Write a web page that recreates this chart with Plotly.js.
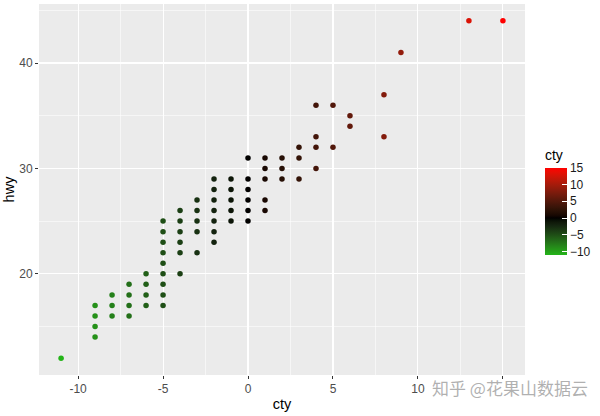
<!DOCTYPE html>
<html>
<head>
<meta charset="utf-8">
<script src="https://cdn.plot.ly/plotly-3.0.1.min.js"></script>
<style>html,body{margin:0;padding:0;background:#fff;}#chart{width:600px;height:416px;}</style>
</head>
<body>
<div id="chart"></div>
<script>
// centered city mpg (x) and highway mpg (y), one entry per drawn point
const ctyCentered = [
  -11,
  -9,-9,-9,-9,
  -8,-8,-8,
  -7,-7,-7,-7,
  -6,-6,-6,-6,
  -5,-5,-5,-5,-5,-5,-5,-5,-5,
  -4,-4,-4,-4,-4,-4,
  -3,-3,-3,-3,-3,
  -2,-2,-2,-2,-2,-2,-2,
  -1,-1,-1,-1,-1,
  0,0,0,0,0,0,
  1,1,1,1,1,
  2,2,2,
  3,3,3,
  4,4,4,4,
  5,5,
  6,6,
  8,8,
  9,
  13,
  15
];
const hwy = [
  12,
  14,15,16,17,
  16,17,18,
  16,17,18,19,
  17,18,19,20,
  17,18,19,20,21,22,23,24,25,
  20,22,23,24,25,26,
  22,24,25,26,27,
  23,24,25,26,27,28,29,
  25,26,27,28,29,
  25,26,27,28,29,31,
  26,27,29,30,31,
  29,30,31,
  29,31,32,
  30,32,33,36,
  32,36,
  34,35,
  33,37,
  41,
  44,
  44
];
const xTickVals = [-10, -5, 0, 5, 10, 15];
// the "15" x label is hidden behind the watermark in the reference
const xTickText = ['-10', '-5', '0', '5', '10', ''];
const yTickVals = [20, 30, 40];
const colorTickVals = [-10, -5, 0, 5, 10, 15];

// --- Lab-space gradient (low green, mid black, high red; midpoint 0) ---
function srgbToLin(c){c/=255;return c<=0.04045?c/12.92:Math.pow((c+0.055)/1.055,2.4);}
function linToSrgb(c){c=Math.max(0,Math.min(1,c));const v=c<=0.0031308?12.92*c:1.055*Math.pow(c,1/2.4)-0.055;return Math.round(Math.max(0,Math.min(1,v))*255);}
function rgbToLab(r,g,b){
  const R=srgbToLin(r),G=srgbToLin(g),B=srgbToLin(b);
  let X=(0.4124*R+0.3576*G+0.1805*B)/0.95047,Y=(0.2126*R+0.7152*G+0.0722*B),Z=(0.0193*R+0.1192*G+0.9505*B)/1.08883;
  const f=t=>t>0.008856?Math.cbrt(t):(7.787*t+16/116);
  const fx=f(X),fy=f(Y),fz=f(Z);
  return [116*fy-16,500*(fx-fy),200*(fy-fz)];
}
function labToRgb(L,a,b){
  const fy=(L+16)/116,fx=fy+a/500,fz=fy-b/200;
  const inv=t=>t>0.206893?t*t*t:(t-16/116)/7.787;
  const X=inv(fx)*0.95047,Y=inv(fy),Z=inv(fz)*1.08883;
  const R=3.2406*X-1.5372*Y-0.4986*Z,G=-0.9689*X+1.8758*Y+0.0415*Z,B=0.0557*X-0.2040*Y+1.0570*Z;
  return 'rgb('+linToSrgb(R)+','+linToSrgb(G)+','+linToSrgb(B)+')';
}
const labLow=rgbToLab(0,255,0),labMid=rgbToLab(0,0,0),labHigh=rgbToLab(255,0,0);
function colorAt(v){
  const t=0.5+v/30; // rescale_mid with max |range| = 15
  let c1,c2,f;
  if(t<=0.5){c1=labLow;c2=labMid;f=t/0.5;}else{c1=labMid;c2=labHigh;f=(t-0.5)/0.5;}
  return labToRgb(c1[0]+(c2[0]-c1[0])*f,c1[1]+(c2[1]-c1[1])*f,c1[2]+(c2[2]-c1[2])*f);
}
const cmin=Math.min(...ctyCentered),cmax=Math.max(...ctyCentered);
const colorscale=[];
const N=40;
for(let i=0;i<=N;i++){const v=cmin+(cmax-cmin)*i/N;colorscale.push([i/N,colorAt(v)]);}

const fontFam='Liberation Sans, Arial, sans-serif';
const trace={
  type:'scatter',mode:'markers',
  x:ctyCentered,y:hwy,
  hoverinfo:'x+y',
  marker:{
    size:5.5,color:ctyCentered,colorscale:colorscale,cmin:cmin,cmax:cmax,
    line:{width:0},
    showscale:true,
    colorbar:{
      title:{text:'cty',side:'top',font:{family:fontFam,size:14,color:'#000'}},
      x:1.0409,xanchor:'left',xpad:0,
      y:0.4695,yanchor:'middle',ypad:0,
      thickness:22,thicknessmode:'pixels',
      len:108,lenmode:'pixels',
      outlinewidth:0,
      tickvals:colorTickVals,
      ticks:'inside',ticklen:5,tickcolor:'white',tickwidth:1,
      tickfont:{family:fontFam,size:12,color:'#1a1a1a'}
    }
  }
};

const layout={
  width:600,height:416,
  margin:{l:39,r:72,t:4,b:41},
  paper_bgcolor:'#ffffff',plot_bgcolor:'#EBEBEB',
  showlegend:false,
  xaxis:{
    range:[-12.3,16.3],
    tickvals:xTickVals,ticktext:xTickText,
    showgrid:true,gridcolor:'#ffffff',gridwidth:1.1,
    minor:{tickvals:[-12.5,-7.5,-2.5,2.5,7.5,12.5],showgrid:true,gridcolor:'#ffffff',gridwidth:0.55,ticks:''},
    zeroline:false,showline:false,
    ticks:'outside',ticklen:3,tickcolor:'#333333',tickwidth:1,
    tickfont:{family:fontFam,size:12,color:'#4D4D4D'},
    title:{text:'cty',standoff:3,font:{family:fontFam,size:14.5,color:'#000'}}
  },
  yaxis:{
    range:[10.4,45.6],
    tickvals:yTickVals,
    showgrid:true,gridcolor:'#ffffff',gridwidth:1.1,
    minor:{tickvals:[15,25,35,45],showgrid:true,gridcolor:'#ffffff',gridwidth:0.55,ticks:''},
    zeroline:false,showline:false,
    ticks:'outside',ticklen:3,tickcolor:'#333333',tickwidth:1,
    tickfont:{family:fontFam,size:12,color:'#4D4D4D'},
    title:{text:'hwy',standoff:1,font:{family:fontFam,size:14.5,color:'#000'}}
  },
  annotations:[{
    text:'知乎 @花果山数据云',xref:'paper',yref:'paper',
    x:0.8037,y:-0.035,xanchor:'left',yanchor:'middle',showarrow:false,
    font:{family:'Noto Sans CJK SC, sans-serif',size:17,color:'rgba(150,150,150,0.75)'}
  }]
};

Plotly.newPlot('chart',[trace],layout,{displayModeBar:false,staticPlot:true});
</script>
</body>
</html>
